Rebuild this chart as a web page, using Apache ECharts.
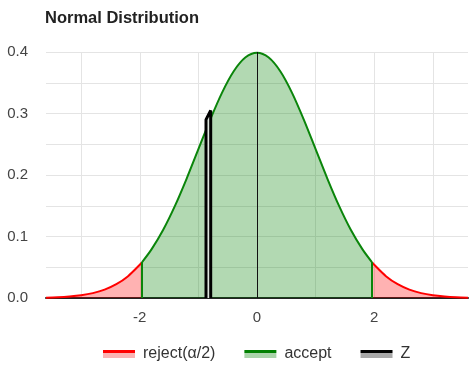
<!DOCTYPE html>
<html>
<head>
<meta charset="utf-8">
<script src="https://cdn.jsdelivr.net/npm/echarts@6/dist/echarts.min.js"></script>
<style>
  html, body { margin: 0; padding: 0; background: #fff; }
  #chart { width: 474px; height: 366px; }
</style>
</head>
<body>
<div id="chart"></div>
<script>
// 曲线上的点 (x, 密度)
var curveX = [-3.6, -3.4, -3.2, -3.0, -2.8, -2.6, -2.4, -2.2, -2.0, -1.96, -1.8, -1.6, -1.4, -1.2, -1.0, -0.8, -0.6, -0.4, -0.2, 0,
  0.2, 0.4, 0.6, 0.8, 1.0, 1.2, 1.4, 1.6, 1.8, 1.96, 2.0, 2.2, 2.4, 2.6, 2.8, 3.0, 3.2, 3.4, 3.6];
var curveY = [0.0006, 0.0012, 0.0024, 0.0044, 0.0079, 0.0136, 0.0224, 0.0355, 0.054, 0.0584, 0.079, 0.1109, 0.1497, 0.1942, 0.242, 0.2897, 0.3332, 0.3683, 0.391, 0.3989,
  0.391, 0.3683, 0.3332, 0.2897, 0.242, 0.1942, 0.1497, 0.1109, 0.079, 0.0584, 0.054, 0.0355, 0.0224, 0.0136, 0.0079, 0.0044, 0.0024, 0.0012, 0.0006];
var criticalZ = 1.96;

// Z 区域
var zX = [-0.87, -0.87, -0.79, -0.79];
var zY = [0, 0.29, 0.305, 0];

// 刻度标签
var xTickLabels = ['-2', '0', '2'];
var yTickLabels = ['0.0', '0.1', '0.2', '0.3', '0.4'];

var legendNames = ['reject(α/2)', 'accept', 'Z'];

var fontFamily = 'Arial, "Liberation Sans", sans-serif';

function pick(test) {
  var out = [];
  curveX.forEach(function (x, i) {
    if (test(x)) out.push([x, curveY[i]]);
  });
  return out;
}
var leftReject = pick(function (x) { return x <= -criticalZ; });
var rightReject = pick(function (x) { return x >= criticalZ; });
var accept = pick(function (x) { return x >= -criticalZ && x <= criticalZ; });
var zData = zX.map(function (x, i) { return [x, zY[i]]; });

var edgeLeft = accept[0];
var edgeRight = accept[accept.length - 1];

// 图例图标：上线下面
function iconStyle(line, fill) {
  return {
    color: {
      type: 'linear', x: 0, y: 0, x2: 0, y2: 1,
      colorStops: [
        { offset: 0, color: line }, { offset: 0.4, color: line },
        { offset: 0.4, color: fill }, { offset: 1, color: fill }
      ]
    },
    borderWidth: 0
  };
}

var chart = echarts.init(document.getElementById('chart'));

var option = {
  animation: false,
  title: {
    text: 'Normal Distribution',
    left: 40,
    top: 5,
    textStyle: { fontFamily: fontFamily, fontSize: 16.5, fontWeight: 'bold', color: '#222' }
  },
  legend: {
    left: 98,
    top: 341,
    icon: 'rect',
    itemWidth: 32,
    itemHeight: 8,
    itemGap: 29,
    textStyle: { fontFamily: fontFamily, fontSize: 16, color: '#333', padding: [0, 0, 0, 3] },
    data: [
      { name: legendNames[0], itemStyle: iconStyle('#ff0000', '#fbb3b3') },
      { name: legendNames[1], itemStyle: iconStyle('#008000', '#a9d4a9') },
      { name: legendNames[2], itemStyle: iconStyle('#000000', '#a8a8a8') }
    ]
  },
  grid: { left: 46, right: 6, top: 52, bottom: 68 },
  xAxis: {
    type: 'value',
    min: -3.6,
    max: 3.6,
    interval: 0.2,
    axisLine: { show: true, lineStyle: { color: '#222', width: 2 } },
    axisTick: { show: false },
    axisLabel: {
      margin: 12,
      fontFamily: fontFamily,
      fontSize: 15,
      color: '#444',
      formatter: function (v) {
        var s = String(Math.round(v * 100) / 100);
        return xTickLabels.indexOf(s) >= 0 ? s : '';
      }
    },
    splitLine: {
      show: true,
      lineStyle: { color: ['rgba(0,0,0,0)', 'rgba(0,0,0,0)', 'rgba(0,0,0,0)', '#e4e4e4', 'rgba(0,0,0,0)'], width: 1 }
    }
  },
  yAxis: {
    type: 'value',
    min: 0,
    max: 0.4,
    interval: 0.05,
    axisLine: { show: false },
    axisTick: { show: false },
    axisLabel: {
      margin: 18,
      fontFamily: fontFamily,
      fontSize: 15,
      color: '#444',
      formatter: function (v) {
        var s = v.toFixed(2);
        var t = v.toFixed(1);
        return (s.charAt(s.length - 1) === '0' && yTickLabels.indexOf(t) >= 0) ? t : '';
      }
    },
    splitLine: { show: true, lineStyle: { color: '#e4e4e4', width: 1 } }
  },
  series: [
    {
      name: legendNames[0],
      type: 'line',
      data: leftReject,
      smooth: 0.3,
      showSymbol: false,
      lineStyle: { color: '#ff0000', width: 2 },
      itemStyle: { color: '#ff0000' },
      areaStyle: { color: 'rgba(255,0,0,0.3)', opacity: 1 }
    },
    {
      name: legendNames[0],
      type: 'line',
      data: rightReject,
      smooth: 0.3,
      showSymbol: false,
      lineStyle: { color: '#ff0000', width: 2 },
      itemStyle: { color: '#ff0000' },
      areaStyle: { color: 'rgba(255,0,0,0.3)', opacity: 1 }
    },
    {
      name: legendNames[1],
      type: 'line',
      data: accept,
      smooth: 0.3,
      showSymbol: false,
      lineStyle: { color: '#0a850a', width: 2 },
      itemStyle: { color: '#0a850a' },
      areaStyle: { color: 'rgba(0,128,0,0.3)', opacity: 1 },
      markLine: {
        silent: true,
        symbol: ['none', 'none'],
        label: { show: false },
        data: [
          { xAxis: 0, lineStyle: { color: '#111', width: 1, type: 'solid' } },
          [{ coord: [edgeLeft[0], 0] }, { coord: edgeLeft, lineStyle: { color: '#0a850a', width: 2, type: 'solid' } }],
          [{ coord: [edgeRight[0], 0] }, { coord: edgeRight, lineStyle: { color: '#0a850a', width: 2, type: 'solid' } }]
        ]
      }
    },
    {
      name: legendNames[2],
      type: 'line',
      data: zData,
      showSymbol: false,
      z: 4,
      lineStyle: { color: '#000', width: 3 },
      itemStyle: { color: '#000' },
      areaStyle: { color: 'rgb(222,230,222)', opacity: 1 }
    }
  ]
};

chart.setOption(option);
</script>
</body>
</html>
